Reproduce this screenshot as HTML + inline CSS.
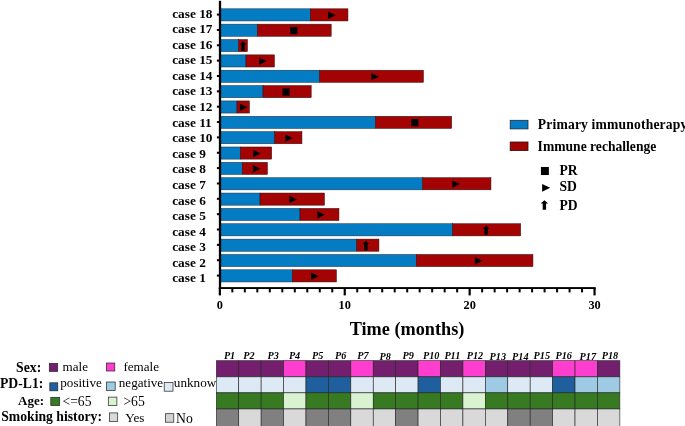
<!DOCTYPE html>
<html><head><meta charset="utf-8"><title>Swimmer plot</title>
<style>html,body{margin:0;padding:0;background:#fff;}body{width:685px;height:426px;overflow:hidden;position:relative;}svg{position:absolute;left:0;top:0;display:block;}text{font-family:"Liberation Serif",serif;fill:#000;}.b{font-weight:bold;}.bi{font-weight:bold;font-style:italic;}</style>
</head><body>
<svg width="685" height="426" viewBox="0 0 685 426">
<rect x="0" y="0" width="685" height="426" fill="#ffffff"/>
<g>
<rect x="220.0" y="8.80" width="90.25" height="12.15" fill="#037cc4" stroke="#1c2a36" stroke-width="0.5"/>
<rect x="310.25" y="8.80" width="37.70" height="12.15" fill="#a40303" stroke="#2a1010" stroke-width="0.5"/>
<path d="M328.15 11.57 L335.65 15.22 L328.15 18.88 Z" fill="#000"/>
<rect x="216.9" y="13.57" width="3" height="2" fill="#000"/>
<text class="b" x="172.2" y="17.50" font-size="13.3">case 18</text>
</g>
<g>
<rect x="220.0" y="24.15" width="37.25" height="12.15" fill="#037cc4" stroke="#1c2a36" stroke-width="0.5"/>
<rect x="257.25" y="24.15" width="73.95" height="12.15" fill="#a40303" stroke="#2a1010" stroke-width="0.5"/>
<rect x="290.25" y="26.98" width="7.10" height="7.20" fill="#000"/>
<rect x="216.9" y="28.93" width="3" height="2" fill="#000"/>
<text class="b" x="172.2" y="33.09" font-size="13.3">case 17</text>
</g>
<g>
<rect x="220.0" y="39.51" width="18.50" height="12.15" fill="#037cc4" stroke="#1c2a36" stroke-width="0.5"/>
<rect x="238.50" y="39.51" width="8.95" height="12.15" fill="#a40303" stroke="#2a1010" stroke-width="0.5"/>
<path d="M243.00 41.23 L245.90 44.13 L245.90 44.43 L244.70 44.43 L244.70 50.63 L241.30 50.63 L241.30 44.43 L240.10 44.43 L240.10 44.13 Z" fill="#000"/>
<rect x="216.9" y="44.28" width="3" height="2" fill="#000"/>
<text class="b" x="172.2" y="48.67" font-size="13.3">case 16</text>
</g>
<g>
<rect x="220.0" y="54.86" width="26.00" height="12.15" fill="#037cc4" stroke="#1c2a36" stroke-width="0.5"/>
<rect x="246.00" y="54.86" width="28.45" height="12.15" fill="#a40303" stroke="#2a1010" stroke-width="0.5"/>
<path d="M259.15 57.63 L266.65 61.28 L259.15 64.93 Z" fill="#000"/>
<rect x="216.9" y="59.63" width="3" height="2" fill="#000"/>
<text class="b" x="172.2" y="64.25" font-size="13.3">case 15</text>
</g>
<g>
<rect x="220.0" y="70.21" width="99.50" height="12.15" fill="#037cc4" stroke="#1c2a36" stroke-width="0.5"/>
<rect x="319.50" y="70.21" width="103.95" height="12.15" fill="#a40303" stroke="#2a1010" stroke-width="0.5"/>
<path d="M371.40 72.99 L378.90 76.64 L371.40 80.29 Z" fill="#000"/>
<rect x="216.9" y="74.99" width="3" height="2" fill="#000"/>
<text class="b" x="172.2" y="79.84" font-size="13.3">case 14</text>
</g>
<g>
<rect x="220.0" y="85.56" width="43.00" height="12.15" fill="#037cc4" stroke="#1c2a36" stroke-width="0.5"/>
<rect x="263.00" y="85.56" width="48.20" height="12.15" fill="#a40303" stroke="#2a1010" stroke-width="0.5"/>
<rect x="282.45" y="88.39" width="7.10" height="7.20" fill="#000"/>
<rect x="216.9" y="90.34" width="3" height="2" fill="#000"/>
<text class="b" x="172.2" y="95.43" font-size="13.3">case 13</text>
</g>
<g>
<rect x="220.0" y="100.92" width="17.00" height="12.15" fill="#037cc4" stroke="#1c2a36" stroke-width="0.5"/>
<rect x="237.00" y="100.92" width="12.45" height="12.15" fill="#a40303" stroke="#2a1010" stroke-width="0.5"/>
<path d="M239.90 103.69 L247.40 107.34 L239.90 110.99 Z" fill="#000"/>
<rect x="216.9" y="105.69" width="3" height="2" fill="#000"/>
<text class="b" x="172.2" y="111.01" font-size="13.3">case 12</text>
</g>
<g>
<rect x="220.0" y="116.27" width="155.40" height="12.15" fill="#037cc4" stroke="#1c2a36" stroke-width="0.5"/>
<rect x="375.40" y="116.27" width="76.30" height="12.15" fill="#a40303" stroke="#2a1010" stroke-width="0.5"/>
<rect x="411.25" y="119.10" width="7.10" height="7.20" fill="#000"/>
<rect x="216.9" y="121.05" width="3" height="2" fill="#000"/>
<text class="b" x="172.2" y="126.59" font-size="13.3">case 11</text>
</g>
<g>
<rect x="220.0" y="131.62" width="54.75" height="12.15" fill="#037cc4" stroke="#1c2a36" stroke-width="0.5"/>
<rect x="274.75" y="131.62" width="27.20" height="12.15" fill="#a40303" stroke="#2a1010" stroke-width="0.5"/>
<path d="M285.40 134.40 L292.90 138.05 L285.40 141.70 Z" fill="#000"/>
<rect x="216.9" y="136.40" width="3" height="2" fill="#000"/>
<text class="b" x="172.2" y="142.18" font-size="13.3">case 10</text>
</g>
<g>
<rect x="220.0" y="146.98" width="20.25" height="12.15" fill="#037cc4" stroke="#1c2a36" stroke-width="0.5"/>
<rect x="240.25" y="146.98" width="31.45" height="12.15" fill="#a40303" stroke="#2a1010" stroke-width="0.5"/>
<path d="M253.15 149.75 L260.65 153.40 L253.15 157.05 Z" fill="#000"/>
<rect x="216.9" y="151.75" width="3" height="2" fill="#000"/>
<text class="b" x="172.2" y="157.77" font-size="13.3">case 9</text>
</g>
<g>
<rect x="220.0" y="162.33" width="22.25" height="12.15" fill="#037cc4" stroke="#1c2a36" stroke-width="0.5"/>
<rect x="242.25" y="162.33" width="25.20" height="12.15" fill="#a40303" stroke="#2a1010" stroke-width="0.5"/>
<path d="M252.90 165.10 L260.40 168.75 L252.90 172.41 Z" fill="#000"/>
<rect x="216.9" y="167.10" width="3" height="2" fill="#000"/>
<text class="b" x="172.2" y="173.35" font-size="13.3">case 8</text>
</g>
<g>
<rect x="220.0" y="177.68" width="202.50" height="12.15" fill="#037cc4" stroke="#1c2a36" stroke-width="0.5"/>
<rect x="422.50" y="177.68" width="68.45" height="12.15" fill="#a40303" stroke="#2a1010" stroke-width="0.5"/>
<path d="M452.40 180.46 L459.90 184.11 L452.40 187.76 Z" fill="#000"/>
<rect x="216.9" y="182.46" width="3" height="2" fill="#000"/>
<text class="b" x="172.2" y="188.94" font-size="13.3">case 7</text>
</g>
<g>
<rect x="220.0" y="193.04" width="40.00" height="12.15" fill="#037cc4" stroke="#1c2a36" stroke-width="0.5"/>
<rect x="260.00" y="193.04" width="64.45" height="12.15" fill="#a40303" stroke="#2a1010" stroke-width="0.5"/>
<path d="M289.40 195.81 L296.90 199.46 L289.40 203.11 Z" fill="#000"/>
<rect x="216.9" y="197.81" width="3" height="2" fill="#000"/>
<text class="b" x="172.2" y="204.52" font-size="13.3">case 6</text>
</g>
<g>
<rect x="220.0" y="208.39" width="80.00" height="12.15" fill="#037cc4" stroke="#1c2a36" stroke-width="0.5"/>
<rect x="300.00" y="208.39" width="38.95" height="12.15" fill="#a40303" stroke="#2a1010" stroke-width="0.5"/>
<path d="M317.40 211.16 L324.90 214.81 L317.40 218.46 Z" fill="#000"/>
<rect x="216.9" y="213.16" width="3" height="2" fill="#000"/>
<text class="b" x="172.2" y="220.11" font-size="13.3">case 5</text>
</g>
<g>
<rect x="220.0" y="223.74" width="232.75" height="12.15" fill="#037cc4" stroke="#1c2a36" stroke-width="0.5"/>
<rect x="452.75" y="223.74" width="67.95" height="12.15" fill="#a40303" stroke="#2a1010" stroke-width="0.5"/>
<path d="M486.15 225.47 L489.05 228.37 L489.05 228.67 L487.85 228.67 L487.85 234.87 L484.45 234.87 L484.45 228.67 L483.25 228.67 L483.25 228.37 Z" fill="#000"/>
<rect x="216.9" y="228.52" width="3" height="2" fill="#000"/>
<text class="b" x="172.2" y="235.69" font-size="13.3">case 4</text>
</g>
<g>
<rect x="220.0" y="239.09" width="136.75" height="12.15" fill="#037cc4" stroke="#1c2a36" stroke-width="0.5"/>
<rect x="356.75" y="239.09" width="22.20" height="12.15" fill="#a40303" stroke="#2a1010" stroke-width="0.5"/>
<path d="M365.90 240.82 L368.80 243.72 L368.80 244.02 L367.60 244.02 L367.60 250.22 L364.20 250.22 L364.20 244.02 L363.00 244.02 L363.00 243.72 Z" fill="#000"/>
<rect x="216.9" y="243.87" width="3" height="2" fill="#000"/>
<text class="b" x="172.2" y="251.28" font-size="13.3">case 3</text>
</g>
<g>
<rect x="220.0" y="254.45" width="196.25" height="12.15" fill="#037cc4" stroke="#1c2a36" stroke-width="0.5"/>
<rect x="416.25" y="254.45" width="116.70" height="12.15" fill="#a40303" stroke="#2a1010" stroke-width="0.5"/>
<path d="M474.90 257.22 L482.40 260.87 L474.90 264.52 Z" fill="#000"/>
<rect x="216.9" y="259.22" width="3" height="2" fill="#000"/>
<text class="b" x="172.2" y="266.86" font-size="13.3">case 2</text>
</g>
<g>
<rect x="220.0" y="269.80" width="72.25" height="12.15" fill="#037cc4" stroke="#1c2a36" stroke-width="0.5"/>
<rect x="292.25" y="269.80" width="44.20" height="12.15" fill="#a40303" stroke="#2a1010" stroke-width="0.5"/>
<path d="M311.15 272.58 L318.65 276.23 L311.15 279.88 Z" fill="#000"/>
<rect x="216.9" y="274.58" width="3" height="2" fill="#000"/>
<text class="b" x="172.2" y="282.44" font-size="13.3">case 1</text>
</g>
<rect x="218.85" y="0.8" width="2.3" height="288.2" fill="#000"/>
<rect x="218.85" y="287.1" width="376.9" height="1.9" fill="#000"/>
<rect x="218.75" y="288" width="2.2" height="7.4" fill="#000"/>
<text class="b" x="219.85" y="309.4" font-size="12.3" text-anchor="middle">0</text>
<rect x="231.34" y="288" width="2" height="4.4" fill="#000"/>
<rect x="243.83" y="288" width="2" height="4.4" fill="#000"/>
<rect x="256.32" y="288" width="2" height="4.4" fill="#000"/>
<rect x="268.81" y="288" width="2" height="4.4" fill="#000"/>
<rect x="281.30" y="288" width="2" height="4.4" fill="#000"/>
<rect x="293.79" y="288" width="2" height="4.4" fill="#000"/>
<rect x="306.28" y="288" width="2" height="4.4" fill="#000"/>
<rect x="318.77" y="288" width="2" height="4.4" fill="#000"/>
<rect x="331.26" y="288" width="2" height="4.4" fill="#000"/>
<rect x="343.65" y="288" width="2.2" height="7.4" fill="#000"/>
<text class="b" x="344.75" y="309.4" font-size="12.3" text-anchor="middle">10</text>
<rect x="356.24" y="288" width="2" height="4.4" fill="#000"/>
<rect x="368.73" y="288" width="2" height="4.4" fill="#000"/>
<rect x="381.22" y="288" width="2" height="4.4" fill="#000"/>
<rect x="393.71" y="288" width="2" height="4.4" fill="#000"/>
<rect x="406.20" y="288" width="2" height="4.4" fill="#000"/>
<rect x="418.69" y="288" width="2" height="4.4" fill="#000"/>
<rect x="431.18" y="288" width="2" height="4.4" fill="#000"/>
<rect x="443.67" y="288" width="2" height="4.4" fill="#000"/>
<rect x="456.16" y="288" width="2" height="4.4" fill="#000"/>
<rect x="468.55" y="288" width="2.2" height="7.4" fill="#000"/>
<text class="b" x="469.65" y="309.4" font-size="12.3" text-anchor="middle">20</text>
<rect x="481.14" y="288" width="2" height="4.4" fill="#000"/>
<rect x="493.63" y="288" width="2" height="4.4" fill="#000"/>
<rect x="506.12" y="288" width="2" height="4.4" fill="#000"/>
<rect x="518.61" y="288" width="2" height="4.4" fill="#000"/>
<rect x="531.10" y="288" width="2" height="4.4" fill="#000"/>
<rect x="543.59" y="288" width="2" height="4.4" fill="#000"/>
<rect x="556.08" y="288" width="2" height="4.4" fill="#000"/>
<rect x="568.57" y="288" width="2" height="4.4" fill="#000"/>
<rect x="581.06" y="288" width="2" height="4.4" fill="#000"/>
<rect x="593.45" y="288" width="2.2" height="7.4" fill="#000"/>
<text class="b" x="594.55" y="309.4" font-size="12.3" text-anchor="middle">30</text>
<text class="b" x="407.0" y="334.8" font-size="18.25" text-anchor="middle">Time (months)</text>
<rect x="510.2" y="120.3" width="17.8" height="8.6" fill="#037cc4" stroke="#1c2a36" stroke-width="0.8"/>
<text class="b" x="537.8" y="129.2" font-size="13.6" letter-spacing="0.17">Primary immunotherapy</text>
<rect x="510.2" y="142" width="17.8" height="8.6" fill="#a40303" stroke="#2a1010" stroke-width="0.8"/>
<text class="b" x="537.6" y="150.9" font-size="13.6">Immune rechallenge</text>
<rect x="540.92" y="166.97" width="7.95" height="8.06" fill="#000"/>
<text class="b" x="559.4" y="174.5" font-size="13.6">PR</text>
<path d="M542.14 183.89 L550.16 187.80 L542.14 191.71 Z" fill="#000"/>
<text class="b" x="559.4" y="191.4" font-size="13.6">SD</text>
<path d="M544.40 200.30 L547.95 203.20 L547.95 203.50 L546.10 203.50 L546.10 209.70 L542.70 209.70 L542.70 203.50 L540.85 203.50 L540.85 203.20 Z" fill="#000"/>
<text class="b" x="559.4" y="209.8" font-size="13.6">PD</text>
<rect x="216.30" y="360.70" width="22.42" height="16.15" fill="#741f6e" stroke="#222" stroke-width="0.6"/>
<rect x="238.72" y="360.70" width="22.42" height="16.15" fill="#741f6e" stroke="#222" stroke-width="0.6"/>
<rect x="261.14" y="360.70" width="22.42" height="16.15" fill="#741f6e" stroke="#222" stroke-width="0.6"/>
<rect x="283.56" y="360.70" width="22.42" height="16.15" fill="#ff3dcf" stroke="#222" stroke-width="0.6"/>
<rect x="305.98" y="360.70" width="22.42" height="16.15" fill="#741f6e" stroke="#222" stroke-width="0.6"/>
<rect x="328.40" y="360.70" width="22.42" height="16.15" fill="#741f6e" stroke="#222" stroke-width="0.6"/>
<rect x="350.82" y="360.70" width="22.42" height="16.15" fill="#ff3dcf" stroke="#222" stroke-width="0.6"/>
<rect x="373.24" y="360.70" width="22.42" height="16.15" fill="#741f6e" stroke="#222" stroke-width="0.6"/>
<rect x="395.66" y="360.70" width="22.42" height="16.15" fill="#741f6e" stroke="#222" stroke-width="0.6"/>
<rect x="418.08" y="360.70" width="22.42" height="16.15" fill="#ff3dcf" stroke="#222" stroke-width="0.6"/>
<rect x="440.50" y="360.70" width="22.42" height="16.15" fill="#741f6e" stroke="#222" stroke-width="0.6"/>
<rect x="462.92" y="360.70" width="22.42" height="16.15" fill="#ff3dcf" stroke="#222" stroke-width="0.6"/>
<rect x="485.34" y="360.70" width="22.42" height="16.15" fill="#741f6e" stroke="#222" stroke-width="0.6"/>
<rect x="507.76" y="360.70" width="22.42" height="16.15" fill="#741f6e" stroke="#222" stroke-width="0.6"/>
<rect x="530.18" y="360.70" width="22.42" height="16.15" fill="#741f6e" stroke="#222" stroke-width="0.6"/>
<rect x="552.60" y="360.70" width="22.42" height="16.15" fill="#ff3dcf" stroke="#222" stroke-width="0.6"/>
<rect x="575.02" y="360.70" width="22.42" height="16.15" fill="#ff3dcf" stroke="#222" stroke-width="0.6"/>
<rect x="597.44" y="360.70" width="22.42" height="16.15" fill="#741f6e" stroke="#222" stroke-width="0.6"/>
<rect x="216.30" y="376.85" width="22.42" height="16.00" fill="#dde9f5" stroke="#222" stroke-width="0.6"/>
<rect x="238.72" y="376.85" width="22.42" height="16.00" fill="#dde9f5" stroke="#222" stroke-width="0.6"/>
<rect x="261.14" y="376.85" width="22.42" height="16.00" fill="#dde9f5" stroke="#222" stroke-width="0.6"/>
<rect x="283.56" y="376.85" width="22.42" height="16.00" fill="#dde9f5" stroke="#222" stroke-width="0.6"/>
<rect x="305.98" y="376.85" width="22.42" height="16.00" fill="#1f5f9e" stroke="#222" stroke-width="0.6"/>
<rect x="328.40" y="376.85" width="22.42" height="16.00" fill="#1f5f9e" stroke="#222" stroke-width="0.6"/>
<rect x="350.82" y="376.85" width="22.42" height="16.00" fill="#dde9f5" stroke="#222" stroke-width="0.6"/>
<rect x="373.24" y="376.85" width="22.42" height="16.00" fill="#dde9f5" stroke="#222" stroke-width="0.6"/>
<rect x="395.66" y="376.85" width="22.42" height="16.00" fill="#dde9f5" stroke="#222" stroke-width="0.6"/>
<rect x="418.08" y="376.85" width="22.42" height="16.00" fill="#1f5f9e" stroke="#222" stroke-width="0.6"/>
<rect x="440.50" y="376.85" width="22.42" height="16.00" fill="#dde9f5" stroke="#222" stroke-width="0.6"/>
<rect x="462.92" y="376.85" width="22.42" height="16.00" fill="#dde9f5" stroke="#222" stroke-width="0.6"/>
<rect x="485.34" y="376.85" width="22.42" height="16.00" fill="#9fcae3" stroke="#222" stroke-width="0.6"/>
<rect x="507.76" y="376.85" width="22.42" height="16.00" fill="#dde9f5" stroke="#222" stroke-width="0.6"/>
<rect x="530.18" y="376.85" width="22.42" height="16.00" fill="#dde9f5" stroke="#222" stroke-width="0.6"/>
<rect x="552.60" y="376.85" width="22.42" height="16.00" fill="#1f5f9e" stroke="#222" stroke-width="0.6"/>
<rect x="575.02" y="376.85" width="22.42" height="16.00" fill="#9fcae3" stroke="#222" stroke-width="0.6"/>
<rect x="597.44" y="376.85" width="22.42" height="16.00" fill="#9fcae3" stroke="#222" stroke-width="0.6"/>
<rect x="216.30" y="392.85" width="22.42" height="16.10" fill="#387a22" stroke="#222" stroke-width="0.6"/>
<rect x="238.72" y="392.85" width="22.42" height="16.10" fill="#387a22" stroke="#222" stroke-width="0.6"/>
<rect x="261.14" y="392.85" width="22.42" height="16.10" fill="#387a22" stroke="#222" stroke-width="0.6"/>
<rect x="283.56" y="392.85" width="22.42" height="16.10" fill="#d9f2d0" stroke="#222" stroke-width="0.6"/>
<rect x="305.98" y="392.85" width="22.42" height="16.10" fill="#387a22" stroke="#222" stroke-width="0.6"/>
<rect x="328.40" y="392.85" width="22.42" height="16.10" fill="#387a22" stroke="#222" stroke-width="0.6"/>
<rect x="350.82" y="392.85" width="22.42" height="16.10" fill="#d9f2d0" stroke="#222" stroke-width="0.6"/>
<rect x="373.24" y="392.85" width="22.42" height="16.10" fill="#387a22" stroke="#222" stroke-width="0.6"/>
<rect x="395.66" y="392.85" width="22.42" height="16.10" fill="#387a22" stroke="#222" stroke-width="0.6"/>
<rect x="418.08" y="392.85" width="22.42" height="16.10" fill="#387a22" stroke="#222" stroke-width="0.6"/>
<rect x="440.50" y="392.85" width="22.42" height="16.10" fill="#387a22" stroke="#222" stroke-width="0.6"/>
<rect x="462.92" y="392.85" width="22.42" height="16.10" fill="#d9f2d0" stroke="#222" stroke-width="0.6"/>
<rect x="485.34" y="392.85" width="22.42" height="16.10" fill="#387a22" stroke="#222" stroke-width="0.6"/>
<rect x="507.76" y="392.85" width="22.42" height="16.10" fill="#387a22" stroke="#222" stroke-width="0.6"/>
<rect x="530.18" y="392.85" width="22.42" height="16.10" fill="#387a22" stroke="#222" stroke-width="0.6"/>
<rect x="552.60" y="392.85" width="22.42" height="16.10" fill="#387a22" stroke="#222" stroke-width="0.6"/>
<rect x="575.02" y="392.85" width="22.42" height="16.10" fill="#387a22" stroke="#222" stroke-width="0.6"/>
<rect x="597.44" y="392.85" width="22.42" height="16.10" fill="#387a22" stroke="#222" stroke-width="0.6"/>
<rect x="216.30" y="408.95" width="22.42" height="17.55" fill="#808080" stroke="#222" stroke-width="0.6"/>
<rect x="238.72" y="408.95" width="22.42" height="17.55" fill="#d9d9d9" stroke="#222" stroke-width="0.6"/>
<rect x="261.14" y="408.95" width="22.42" height="17.55" fill="#808080" stroke="#222" stroke-width="0.6"/>
<rect x="283.56" y="408.95" width="22.42" height="17.55" fill="#d9d9d9" stroke="#222" stroke-width="0.6"/>
<rect x="305.98" y="408.95" width="22.42" height="17.55" fill="#808080" stroke="#222" stroke-width="0.6"/>
<rect x="328.40" y="408.95" width="22.42" height="17.55" fill="#808080" stroke="#222" stroke-width="0.6"/>
<rect x="350.82" y="408.95" width="22.42" height="17.55" fill="#d9d9d9" stroke="#222" stroke-width="0.6"/>
<rect x="373.24" y="408.95" width="22.42" height="17.55" fill="#d9d9d9" stroke="#222" stroke-width="0.6"/>
<rect x="395.66" y="408.95" width="22.42" height="17.55" fill="#808080" stroke="#222" stroke-width="0.6"/>
<rect x="418.08" y="408.95" width="22.42" height="17.55" fill="#d9d9d9" stroke="#222" stroke-width="0.6"/>
<rect x="440.50" y="408.95" width="22.42" height="17.55" fill="#d9d9d9" stroke="#222" stroke-width="0.6"/>
<rect x="462.92" y="408.95" width="22.42" height="17.55" fill="#d9d9d9" stroke="#222" stroke-width="0.6"/>
<rect x="485.34" y="408.95" width="22.42" height="17.55" fill="#d9d9d9" stroke="#222" stroke-width="0.6"/>
<rect x="507.76" y="408.95" width="22.42" height="17.55" fill="#808080" stroke="#222" stroke-width="0.6"/>
<rect x="530.18" y="408.95" width="22.42" height="17.55" fill="#808080" stroke="#222" stroke-width="0.6"/>
<rect x="552.60" y="408.95" width="22.42" height="17.55" fill="#d9d9d9" stroke="#222" stroke-width="0.6"/>
<rect x="575.02" y="408.95" width="22.42" height="17.55" fill="#d9d9d9" stroke="#222" stroke-width="0.6"/>
<rect x="597.44" y="408.95" width="22.42" height="17.55" fill="#d9d9d9" stroke="#222" stroke-width="0.6"/>
<text class="bi" x="223.9" y="358.9" font-size="10.2">P1</text>
<text class="bi" x="243.3" y="358.9" font-size="10.2">P2</text>
<text class="bi" x="267.6" y="358.9" font-size="10.2">P3</text>
<text class="bi" x="288.9" y="358.9" font-size="10.2">P4</text>
<text class="bi" x="312.1" y="358.9" font-size="10.2">P5</text>
<text class="bi" x="335.1" y="358.9" font-size="10.2">P6</text>
<text class="bi" x="357.2" y="359.4" font-size="10.2">P7</text>
<text class="bi" x="379.5" y="359.5" font-size="10.2">P8</text>
<text class="bi" x="402.5" y="358.9" font-size="10.2">P9</text>
<text class="bi" x="423.0" y="358.9" font-size="10.2">P10</text>
<text class="bi" x="444.4" y="358.5" font-size="10.2">P11</text>
<text class="bi" x="466.8" y="358.9" font-size="10.2">P12</text>
<text class="bi" x="489.6" y="359.5" font-size="10.2">P13</text>
<text class="bi" x="512.1" y="359.5" font-size="10.2">P14</text>
<text class="bi" x="533.6" y="358.9" font-size="10.2">P15</text>
<text class="bi" x="555.5" y="358.9" font-size="10.2">P16</text>
<text class="bi" x="579.6" y="359.5" font-size="10.2">P17</text>
<text class="bi" x="601.7" y="358.9" font-size="10.2">P18</text>
<text class="b" x="41.2" y="371.5" font-size="13.7" text-anchor="end">Sex:</text>
<rect x="49.3" y="363.4" width="8.4" height="8.0" fill="#741f6e" stroke="#222" stroke-width="0.7"/>
<text x="62.5" y="370.9" font-size="13.1">male</text>
<rect x="106.4" y="363.0" width="8.4" height="8.0" fill="#ff3dcf" stroke="#222" stroke-width="0.7"/>
<text x="123.4" y="370.5" font-size="13.1">female</text>
<text class="b" x="43.3" y="388.4" font-size="13.7" text-anchor="end">PD-L1:</text>
<rect x="49.8" y="382.8" width="8.0" height="8.0" fill="#1f5f9e" stroke="#222" stroke-width="0.7"/>
<text x="60.3" y="387.4" font-size="13.1">positive</text>
<rect x="106.4" y="382.0" width="8.8" height="8.6" fill="#9fcae3" stroke="#222" stroke-width="0.7"/>
<text x="118.8" y="387.4" font-size="13.1">negative</text>
<rect x="164.2" y="382.6" width="8.8" height="8.6" fill="#dde9f5" stroke="#222" stroke-width="0.7"/>
<text x="173.8" y="387.4" font-size="13.2">unknow</text>
<text class="b" x="44" y="405.4" font-size="13" text-anchor="end">Age:</text>
<rect x="50.8" y="397.3" width="8.9" height="8.3" fill="#387a22" stroke="#222" stroke-width="0.7"/>
<text x="62.5" y="405.6" font-size="13.6">&lt;=65</text>
<rect x="108.3" y="397.1" width="8.6" height="8.5" fill="#d9f2d0" stroke="#222" stroke-width="0.7"/>
<text x="123.4" y="405.7" font-size="13.7">&gt;65</text>
<text class="b" x="102" y="421.3" font-size="13.7" text-anchor="end">Smoking history:</text>
<rect x="109.4" y="412.9" width="8.3" height="8.5" fill="#d9d9d9" stroke="#222" stroke-width="0.7"/>
<text x="125.3" y="421.6" font-size="13.2">Yes</text>
<rect x="165.5" y="413.7" width="8.3" height="8.5" fill="#d2d2d2" stroke="#222" stroke-width="0.7"/>
<text x="176.0" y="422.8" font-size="13.7">No</text>
</svg>
</body></html>
